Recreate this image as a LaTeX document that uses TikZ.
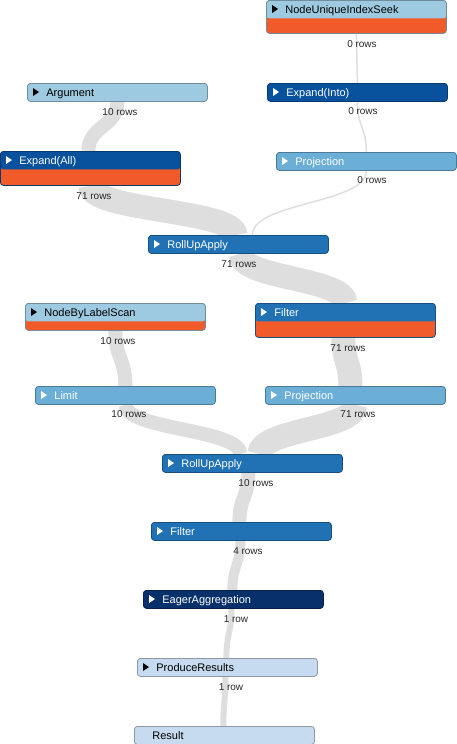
\documentclass[tikz,border=0pt]{standalone}
\usepackage{fontspec}
\setmainfont{Liberation Sans}
\usetikzlibrary{backgrounds}
\definecolor{op pale}{HTML}{C6DBEF}
\definecolor{op light}{HTML}{9ECAE1}
\definecolor{op mid}{HTML}{6BAED6}
\definecolor{op blue}{HTML}{2171B5}
\definecolor{op dark}{HTML}{08519C}
\definecolor{op darkest}{HTML}{08306B}
\definecolor{db hits}{HTML}{F15A29}
\colorlet{flow grey}{black!13}
\tikzset{op/.style={rectangle, rounded corners=3pt, draw=#1!70!black, line width=0.8pt,
        fill=#1, anchor=north west, minimum width=180pt, inner sep=0pt,
        text width=142pt, align=left, text height=13pt, text depth=5pt,
        font=\fontsize{11}{13}\selectfont},
    op hits/.style 2 args={op=#1, fill=db hits, text depth=#2,
        path picture={\fill[#1] (path picture bounding box.north west)
            rectangle ([yshift=-18pt]path picture bounding box.north east);}},
    rows/.style={font=\fontsize{10}{12}\selectfont, text=black!85},
    flow/.style={draw=flow grey, line width=#1}}

\begin{document}
\begin{tikzpicture}[x=1pt, y=-1pt]
        \useasboundingbox (0,0) rectangle (456,744);

        % Operators
        \node[op hits={op light}{20pt}] (seek) at (266,0) {NodeUniqueIndexSeek};
        \node[op=op dark, text=white] (into) at (267,83) {Expand(Into)};
        \node[op=op light] (arg) at (27,83) {Argument};
        \node[op hits={op dark}{21pt}, text=white] (expall) at (0,151) {Expand(All)};
        \node[op=op mid, text=white] (projtop) at (276,152) {Projection};
        \node[op=op blue, text=white] (rollup) at (148,235) {RollUpApply};
        \node[op hits={op light}{14pt}] (scan) at (25,303) {NodeByLabelScan};
        \node[op hits={op blue}{21pt}, text=white] (filter) at (255,303) {Filter};
        \node[op=op mid, text=white] (limit) at (35,386) {Limit};
        \node[op=op mid, text=white] (proj) at (265,386) {Projection};
        \node[op=op blue, text=white] (rollupb) at (162,454) {RollUpApply};
        \node[op=op blue, text=white] (filterb) at (151,522) {Filter};
        \node[op=op darkest, text=white] (eager) at (143,590) {EagerAggregation};
        \node[op=op pale] (produce) at (137,658) {ProduceResults};
        \node[op=op pale, text width=144pt] (result) at (134,726) {Result};

        % Expand triangles
        \foreach \n/\c in {seek/black, into/white, arg/black, expall/white, projtop/white,
            rollup/white, scan/black, filter/white, limit/white, proj/white,
            rollupb/white, filterb/white, eager/white, produce/black}
            \fill[\c] ([shift={(6pt,-5pt)}]\n.north west) -- ++(6pt,-4pt) -- ++(-6pt,-4pt) -- cycle;

        % Row counts
        \node[rows] (seekrows) at (362,44) {0 rows};
        \node[rows] (intorows) at (363,111) {0 rows};
        \node[rows] (argrows) at (120,112) {10 rows};
        \node[rows] (expallrows) at (94,196) {71 rows};
        \node[rows] (projtoprows) at (372,180) {0 rows};
        \node[rows] (rolluprows) at (239,264) {71 rows};
        \node[rows] (scanrows) at (118,341) {10 rows};
        \node[rows] (filterrows) at (348,348) {71 rows};
        \node[rows] (limitrows) at (129,414) {10 rows};
        \node[rows] (projrows) at (358,414) {71 rows};
        \node[rows] (rollupbrows) at (256,483) {10 rows};
        \node[rows] (filterbrows) at (248,551) {4 rows};
        \node[rows] (eagerrows) at (236,619) {1 row};
        \node[rows] (producerows) at (231,687) {1 row};

        % Row flows
        \begin{scope}[on background layer]
            \draw[flow=1.5pt] (seek.south) .. controls +(0,25) and +(0,-25) .. (into.north);
            \draw[flow=1.5pt] (into.south) .. controls +(0,25) and +(0,-25) .. (projtop.north);
            \draw[flow=1.5pt] (projtop.south) .. controls +(0,33) and +(0,-33) .. ([xshift=14pt]rollup.north);
            \draw[flow=14pt] (arg.south) .. controls +(0,25) and +(0,-25) .. ([xshift=-2pt]expall.north);
            \draw[flow=24pt] (expall.south) .. controls +(0,25) and +(0,-25) .. ([xshift=-3pt]rollup.north);
            \draw[flow=24pt] ([xshift=2pt]rollup.south) .. controls +(0,25) and +(0,-25) .. (filter.north);
            \draw[flow=14pt] (scan.south) .. controls +(0,28) and +(0,-28) .. (limit.north);
            \draw[flow=24pt] ([xshift=-2pt]filter.south) .. controls +(0,25) and +(0,-25) .. ([xshift=-5pt]proj.north);
            \draw[flow=14pt] (limit.south) .. controls +(0,25) and +(0,-25) .. ([xshift=-12pt]rollupb.north);
            \draw[flow=24pt] (proj.south) .. controls +(0,25) and +(0,-25) .. ([xshift=7pt]rollupb.north);
            \draw[flow=14pt] ([xshift=-4pt]rollupb.south) .. controls +(0,25) and +(0,-25) .. ([xshift=-2pt]filterb.north);
            \draw[flow=10pt] ([xshift=-1pt]filterb.south) .. controls +(0,25) and +(0,-25) .. ([xshift=-1pt]eager.north);
            \draw[flow=6pt] ([xshift=-2pt]eager.south) .. controls +(0,25) and +(0,-25) .. ([xshift=-1pt]produce.north);
            \draw[flow=6pt] ([xshift=-2pt]produce.south) .. controls +(0,25) and +(0,-25) .. ([xshift=-1pt]result.north);
        \end{scope}
    \end{tikzpicture}
\end{document}
